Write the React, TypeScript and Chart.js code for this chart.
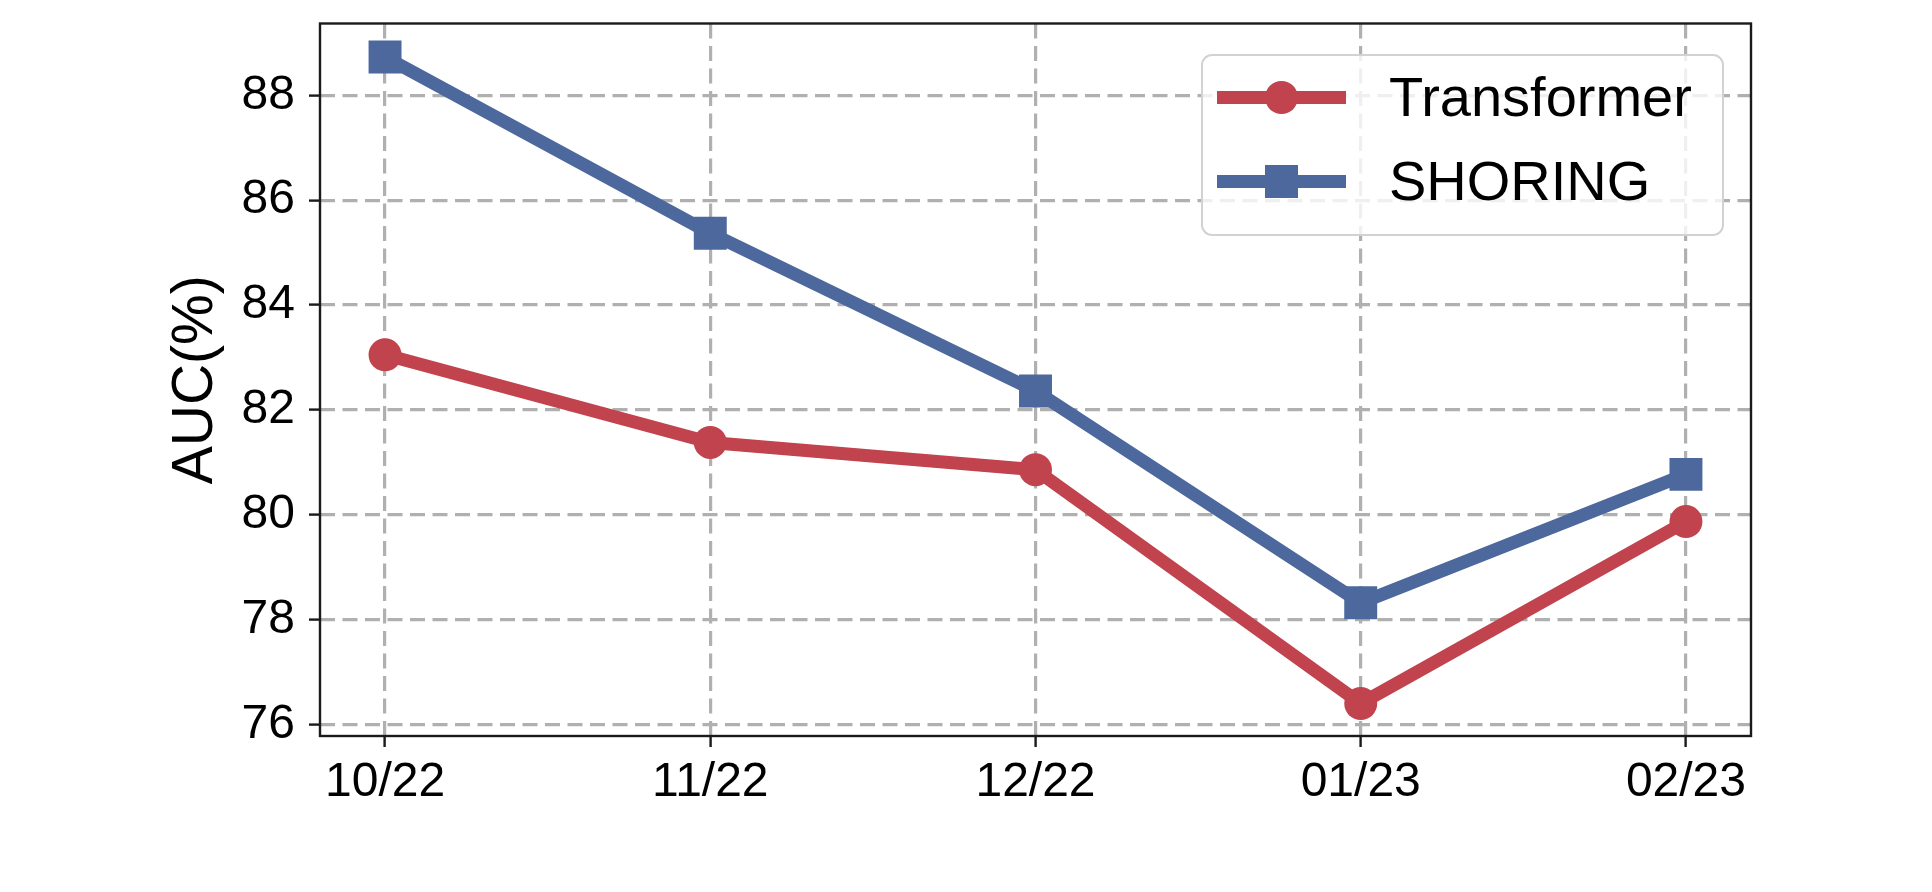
import React, { useEffect, useRef } from "react";
import { Chart, registerables } from "chart.js";

Chart.register(...registerables);

// ---- data ----
const categories = ["10/22", "11/22", "12/22", "01/23", "02/23"];
const seriesNames = ["Transformer", "SHORING"];
const transformerAUC = [83.05, 81.38, 80.86, 76.4, 79.87];
const shoringAUC = [88.73, 85.37, 82.36, 78.32, 80.77];
const yTickValues = [76, 78, 80, 82, 84, 86, 88];
const yLimits = [75.78, 89.37];
const xLimits = [-0.2, 4.2];

// ---- styles ----
const FONT = "'Liberation Sans', Arial, Helvetica, sans-serif";
const RED = "#C1434E";
const BLUE = "#4D689C";
const W = 1932;
const H = 892;
const AREA = { left: 320, right: 1751, top: 23.5, bottom: 736 };

const framePlugin = {
  id: "frame",
  afterDatasetsDraw(chart: any) {
    const { ctx, chartArea: ca } = chart;
    ctx.save();
    ctx.lineWidth = 2.4;
    ctx.strokeStyle = "#1a1a1a";
    ctx.strokeRect(ca.left, ca.top, ca.right - ca.left, ca.bottom - ca.top);
    ctx.restore();
  },
};

const legendPlugin = {
  id: "customLegend",
  afterDraw(chart: any) {
    const { ctx, chartArea: ca } = chart;
    const bx = ca.right - 549;
    const by = ca.top + 31.5;
    const bw = 521;
    const bh = 180;
    ctx.save();
    ctx.beginPath();
    if (ctx.roundRect) ctx.roundRect(bx, by, bw, bh, 10);
    else ctx.rect(bx, by, bw, bh);
    ctx.fillStyle = "rgba(255,255,255,0.8)";
    ctx.fill();
    ctx.lineWidth = 2;
    ctx.strokeStyle = "#d2d2d2";
    ctx.stroke();
    chart.data.datasets.forEach((ds: any, i: number) => {
      const y = by + 42.5 + i * 84;
      const x0 = bx + 15;
      const x1 = bx + 144;
      const xm = (x0 + x1) / 2;
      ctx.beginPath();
      ctx.moveTo(x0, y);
      ctx.lineTo(x1, y);
      ctx.lineWidth = 13;
      ctx.lineCap = "butt";
      ctx.strokeStyle = ds.borderColor;
      ctx.stroke();
      ctx.fillStyle = ds.borderColor;
      if (ds.pointStyle === "rect") {
        const s = 16.5;
        ctx.fillRect(xm - s, y - s, 2 * s, 2 * s);
      } else {
        ctx.beginPath();
        ctx.arc(xm, y, 16.5, 0, Math.PI * 2);
        ctx.fill();
      }
      ctx.fillStyle = "#000";
      ctx.font = `56px ${FONT}`;
      ctx.textBaseline = "middle";
      ctx.textAlign = "left";
      ctx.fillText(ds.label, bx + 187, y + 3);
    });
    ctx.restore();
  },
};

export default function App() {
  const ref = useRef<HTMLCanvasElement | null>(null);

  useEffect(() => {
    if (!ref.current) return;
    const toPoints = (vals: number[]) => vals.map((v, i) => ({ x: i, y: v }));
    const gridOpts = {
      color: "#b0b0b0",
      lineWidth: 3.2,
      tickLength: 11,
      tickColor: "#1a1a1a",
      tickWidth: 2.4,
      tickBorderDash: [],
    };
    const chart = new Chart(ref.current, {
      type: "line",
      data: {
        datasets: [
          {
            label: seriesNames[0],
            data: toPoints(transformerAUC),
            borderColor: RED,
            backgroundColor: RED,
            borderWidth: 13,
            borderJoinStyle: "round",
            pointStyle: "circle",
            pointRadius: 16.5,
            pointHoverRadius: 16.5,
            pointBorderWidth: 0,
            pointBackgroundColor: RED,
            tension: 0,
          },
          {
            label: seriesNames[1],
            data: toPoints(shoringAUC),
            borderColor: BLUE,
            backgroundColor: BLUE,
            borderWidth: 13,
            borderJoinStyle: "round",
            pointStyle: "rect",
            pointRadius: 23.3,
            pointHoverRadius: 23.3,
            pointBorderWidth: 0,
            pointBackgroundColor: BLUE,
            tension: 0,
          },
        ],
      },
      options: {
        responsive: false,
        animation: false,
        devicePixelRatio: 1,
        layout: {
          padding: { left: 0, right: W - AREA.right, top: AREA.top, bottom: 0 },
        },
        plugins: {
          legend: { display: false },
          tooltip: { enabled: false },
          title: { display: false },
        },
        scales: {
          x: {
            type: "linear",
            min: xLimits[0],
            max: xLimits[1],
            afterBuildTicks: (s: any) => {
              s.ticks = categories.map((_, i) => ({ value: i }));
            },
            afterFit: (s: any) => {
              s.height = H - AREA.bottom;
              s.paddingLeft = 0;
              s.paddingRight = 0;
            },
            ticks: {
              callback: (v: any) => categories[Math.round(Number(v))] ?? "",
              font: { family: FONT, size: 48 },
              color: "#000",
              padding: 7,
              maxRotation: 0,
              autoSkip: false,
            },
            grid: gridOpts,
            border: { display: false, dash: [15, 7.5] },
          },
          y: {
            type: "linear",
            min: yLimits[0],
            max: yLimits[1],
            afterBuildTicks: (s: any) => {
              s.ticks = yTickValues.map((v) => ({ value: v }));
            },
            afterFit: (s: any) => {
              s.width = AREA.left;
              s.paddingTop = 0;
              s.paddingBottom = 0;
            },
            ticks: {
              font: { family: FONT, size: 48 },
              color: "#000",
              padding: 14,
              autoSkip: false,
            },
            grid: gridOpts,
            border: { display: false, dash: [15, 7.5] },
            title: {
              display: true,
              text: "AUC(%)",
              color: "#000",
              font: { family: FONT, size: 57 },
              padding: { top: 162, bottom: 0 },
            },
          },
        },
      },
      plugins: [framePlugin, legendPlugin],
    } as any);
    return () => chart.destroy();
  }, []);

  return (
    <div style={{ position: "absolute", left: 0, top: 0, width: W, height: H, background: "#fff" }}>
      <canvas ref={ref} width={W} height={H} style={{ width: W, height: H, display: "block" }} />
    </div>
  );
}
